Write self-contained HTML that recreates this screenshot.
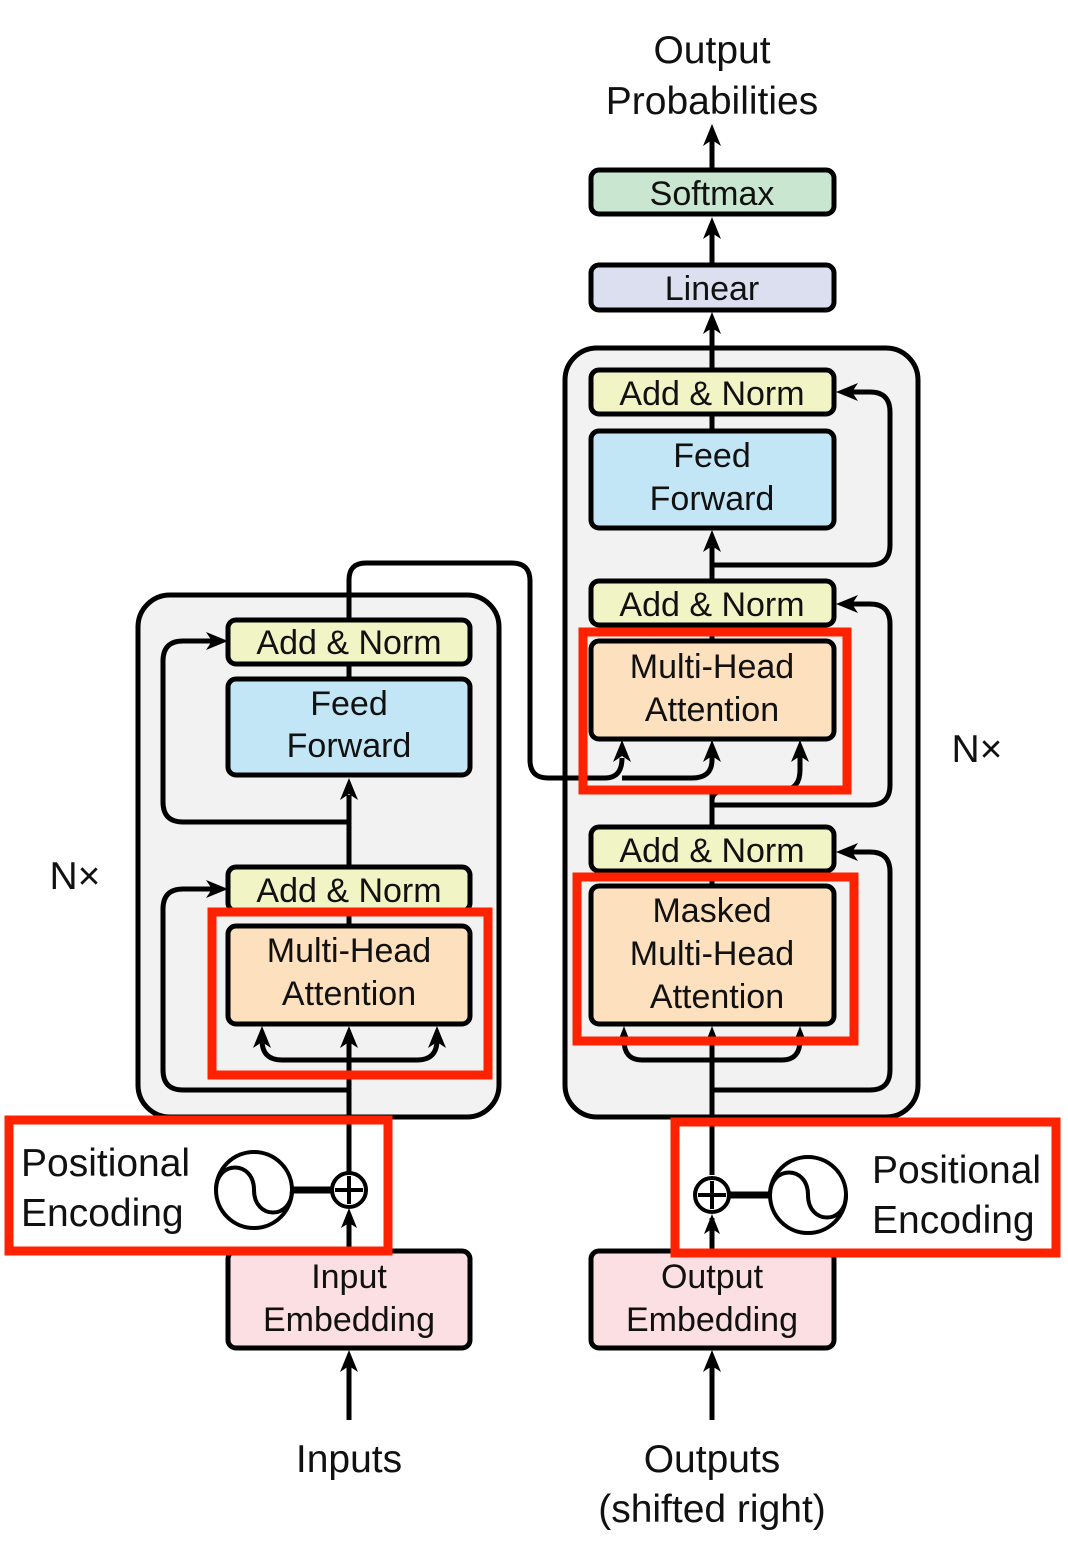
<!DOCTYPE html>
<html><head><meta charset="utf-8"><style>
html,body{margin:0;padding:0;background:#fff;}
svg{display:block;}
text{font-family:"Liberation Sans",sans-serif;fill:#111;text-anchor:middle;}
</style></head><body>
<svg width="1068" height="1554" viewBox="0 0 1068 1554" xmlns="http://www.w3.org/2000/svg">
<defs>
<marker id="a" markerWidth="10" markerHeight="10" refX="8" refY="5" orient="auto" markerUnits="userSpaceOnUse" viewBox="0 0 10 10">
</marker>
</defs>
<g stroke="#000" stroke-width="5" fill="none">
<!-- stacks -->
<rect x="138" y="595" width="361" height="522" rx="32" fill="#f2f2f2"/>
<rect x="565" y="348" width="353" height="769" rx="32" fill="#f2f2f2"/>
</g>
<!-- connector lines -->
<g stroke="#000" stroke-width="5" fill="none" stroke-linejoin="round">
<!-- encoder main -->
<line x1="349" y1="1420" x2="349" y2="1362"/>
<line x1="349" y1="1250" x2="349" y2="1215"/>
<line x1="349" y1="1172" x2="349" y2="1040"/>
<line x1="349" y1="926" x2="349" y2="795"/>
<line x1="349" y1="678" x2="349" y2="580"/>
<path d="M349 580 Q349 563 366 563 L512 563 Q530 563 530 581 L530 760 Q530 778 548 778 L605 778 Q622 778 622 758"/>
<!-- enc residuals -->
<path d="M349 822 L183 822 Q163 822 163 802 L163 661 Q163 641 183 641 L215 641"/>
<path d="M349 1090 L183 1090 Q163 1090 163 1070 L163 909 Q163 889 183 889 L215 889"/>
<!-- enc attention forks -->
<path d="M349 1060 L282 1060 Q262 1060 262 1040"/>
<path d="M349 1060 L417 1060 Q437 1060 437 1040"/>
<!-- decoder main -->
<line x1="712" y1="1420" x2="712" y2="1362"/>
<line x1="712" y1="1250" x2="712" y2="1218"/>
<line x1="712" y1="1175" x2="712" y2="1040"/>
<line x1="712" y1="886" x2="712" y2="870"/>
<line x1="712" y1="827" x2="712" y2="790"/>
<path d="M712 800 Q712 790 730 790 L782 790 Q800 790 800 770 L800 755"/>
<path d="M622 778 L692 778 Q712 778 712 760 L712 755"/>
<line x1="712" y1="641" x2="712" y2="624"/>
<line x1="712" y1="581" x2="712" y2="545"/>
<line x1="712" y1="431" x2="712" y2="413"/>
<line x1="712" y1="370" x2="712" y2="325"/>
<line x1="712" y1="265" x2="712" y2="230"/>
<line x1="712" y1="170" x2="712" y2="140"/>
<!-- dec residuals -->
<path d="M712 565 L870 565 Q890 565 890 545 L890 412 Q890 392 870 392 L848 392"/>
<path d="M712 805 L870 805 Q890 805 890 785 L890 624 Q890 604 870 604 L848 604"/>
<path d="M712 1090 L870 1090 Q890 1090 890 1070 L890 872 Q890 852 870 852 L848 852"/>
<!-- masked forks -->
<path d="M712 1060 L642 1060 Q624 1060 624 1040"/>
<path d="M712 1060 L782 1060 Q800 1060 800 1040"/>
<!-- PE connectors -->
<line x1="292" y1="1190" x2="332" y2="1190" stroke-width="7"/>
<line x1="729" y1="1195" x2="770" y2="1195" stroke-width="7"/>
</g>
<!-- arrowheads -->
<g fill="#000">
<path d="M349 1350 l-9 22 l9 -6 l9 6 z"/>
<path d="M712 1350 l-9 22 l9 -6 l9 6 z"/>
<path d="M349 1208 l-8 20 l8 -5 l8 5 z"/>
<path d="M712 1214 l-8 20 l8 -5 l8 5 z"/>
<path d="M349 1026 l-9 22 l9 -6 l9 6 z"/>
<path d="M262 1026 l-9 22 l9 -6 l9 6 z"/>
<path d="M437 1026 l-9 22 l9 -6 l9 6 z"/>
<path d="M349 778 l-9 22 l9 -6 l9 6 z"/>
<path d="M228 641 l-22 -9 l6 9 l-6 9 z"/>
<path d="M228 889 l-22 -9 l6 9 l-6 9 z"/>
<path d="M622 740 l-9 22 l9 -6 l9 6 z"/>
<path d="M712 740 l-9 22 l9 -6 l9 6 z"/>
<path d="M800 740 l-9 22 l9 -6 l9 6 z"/>
<path d="M712 530 l-9 22 l9 -6 l9 6 z"/>
<path d="M712 312 l-9 22 l9 -6 l9 6 z"/>
<path d="M712 217 l-9 22 l9 -6 l9 6 z"/>
<path d="M712 124 l-9 22 l9 -6 l9 6 z"/>
<path d="M836 392 l22 -9 l-6 9 l6 9 z"/>
<path d="M836 604 l22 -9 l-6 9 l6 9 z"/>
<path d="M836 852 l22 -9 l-6 9 l6 9 z"/>
<path d="M624 1026 l-7 18 l7 -4 l7 4 z"/>
<path d="M712 1026 l-7 18 l7 -4 l7 4 z"/>
<path d="M800 1026 l-7 18 l7 -4 l7 4 z"/>
</g>
<!-- boxes -->
<g stroke="#000" stroke-width="5">
<rect x="228" y="620" width="242" height="44" rx="8" fill="#f1f4c4"/>
<rect x="228" y="679" width="242" height="96" rx="8" fill="#c2e6f6"/>
<rect x="228" y="867" width="242" height="44" rx="8" fill="#f1f4c4"/>
<rect x="228" y="926" width="242" height="98" rx="8" fill="#fde0bd"/>
<rect x="228" y="1251" width="242" height="97" rx="8" fill="#fbdfe2"/>
<rect x="591" y="170" width="243" height="44" rx="8" fill="#c9e7d0"/>
<rect x="591" y="265" width="243" height="45" rx="8" fill="#dcdff0"/>
<rect x="591" y="370" width="243" height="44" rx="8" fill="#f1f4c4"/>
<rect x="591" y="431" width="243" height="97" rx="8" fill="#c2e6f6"/>
<rect x="591" y="581" width="243" height="44" rx="8" fill="#f1f4c4"/>
<rect x="591" y="641" width="243" height="98" rx="8" fill="#fde0bd"/>
<rect x="591" y="827" width="243" height="44" rx="8" fill="#f1f4c4"/>
<rect x="591" y="886" width="243" height="138" rx="8" fill="#fde0bd"/>
<rect x="591" y="1251" width="243" height="97" rx="8" fill="#fbdfe2"/>
</g>
<!-- PE symbols -->
<g stroke="#000" stroke-width="4" fill="#fff">
<circle cx="254" cy="1190" r="38"/>
<circle cx="349" cy="1190" r="17"/>
<circle cx="808" cy="1195" r="38"/>
<circle cx="712" cy="1195" r="17"/>
</g>
<g stroke="#000" stroke-width="4" fill="none">
<path d="M216 1190 C216 1160 254 1160 254 1190 C254 1220 292 1220 292 1190"/>
<path d="M770 1195 C770 1165 808 1165 808 1195 C808 1225 846 1225 846 1195"/>
<path d="M349 1176 V1204 M335 1190 H363"/>
<path d="M712 1181 V1209 M698 1195 H726"/>
</g>
<!-- red highlight boxes -->
<g stroke="#ff2200" stroke-width="9" fill="none">
<rect x="212" y="912" width="276" height="163"/>
<rect x="583" y="632" width="264" height="158"/>
<rect x="577" y="877" width="277" height="164"/>
<rect x="9" y="1120" width="379" height="131"/>
<rect x="675" y="1122" width="381" height="131"/>
</g>
<!-- text -->
<g font-size="34">
<text x="349" y="654">Add &amp; Norm</text>
<text x="349" y="715">Feed</text>
<text x="349" y="757">Forward</text>
<text x="349" y="902">Add &amp; Norm</text>
<text x="349" y="962">Multi-Head</text>
<text x="349" y="1005">Attention</text>
<text x="349" y="1288">Input</text>
<text x="349" y="1331">Embedding</text>
<text x="712" y="205">Softmax</text>
<text x="712" y="300">Linear</text>
<text x="712" y="405">Add &amp; Norm</text>
<text x="712" y="467">Feed</text>
<text x="712" y="510">Forward</text>
<text x="712" y="616">Add &amp; Norm</text>
<text x="712" y="678">Multi-Head</text>
<text x="712" y="721">Attention</text>
<text x="712" y="862">Add &amp; Norm</text>
<text x="712" y="922">Masked</text>
<text x="712" y="965">Multi-Head</text>
<text x="717" y="1008">Attention</text>
<text x="712" y="1288">Output</text>
<text x="712" y="1331">Embedding</text>
</g>
<g font-size="39">
<text x="712" y="63">Output</text>
<text x="712" y="114">Probabilities</text>
<text x="349" y="1472">Inputs</text>
<text x="712" y="1472">Outputs</text>
<text x="712" y="1522">(shifted right)</text>
<text x="75" y="889">N×</text>
<text x="977" y="762">N×</text>
<text x="21" y="1176" style="text-anchor:start">Positional</text>
<text x="21" y="1226" style="text-anchor:start">Encoding</text>
<text x="872" y="1183" style="text-anchor:start">Positional</text>
<text x="872" y="1233" style="text-anchor:start">Encoding</text>
</g>
</svg>
</body></html>
